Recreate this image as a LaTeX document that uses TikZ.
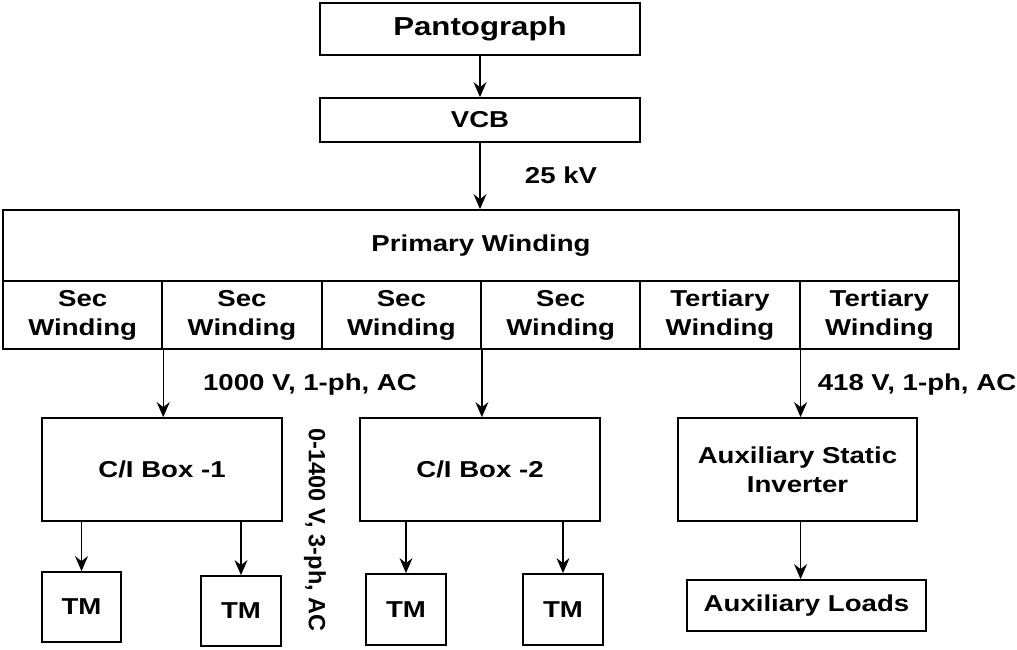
\documentclass[tikz,border=0pt]{standalone}
\usepackage{fontspec}
\setmainfont[FakeStretch=1.2]{Liberation Sans}
\newfontfamily\rotfont{Liberation Sans}
\usetikzlibrary{arrows.meta}
\begin{document}
\begin{tikzpicture}[x=1pt,y=-1pt,
  box/.style={draw, line width=1.8pt, inner sep=0pt, align=center,
    font=\fontsize{23}{29}\selectfont\bfseries},
  arr/.style={line width=1.4pt, -{Stealth[length=15pt,width=13pt,inset=5pt]}},
  lab/.style={inner sep=0pt, font=\fontsize{23}{29}\selectfont\bfseries}]
\useasboundingbox (0,0) rectangle (1017,649);
% top chain
\node[box, minimum width=320pt, minimum height=52pt, font=\fontsize{26}{31}\selectfont\bfseries] (pant) at (480,29) {Pantograph};
\node[box, minimum width=320pt, minimum height=44pt] (vcb) at (480,120) {VCB};
\node[box, minimum width=956pt, minimum height=71pt] (prim) at (481,245.5) {Primary Winding};
% winding cells
\node[box, minimum width=159.33pt, minimum height=68pt] (s1) at (82.67,315) {Sec\\Winding};
\node[box, minimum width=159.33pt, minimum height=68pt] (s2) at (242,315) {Sec\\Winding};
\node[box, minimum width=159.33pt, minimum height=68pt] (s3) at (401.33,315) {Sec\\Winding};
\node[box, minimum width=159.33pt, minimum height=68pt] (s4) at (560.67,315) {Sec\\Winding};
\node[box, minimum width=159.33pt, minimum height=68pt] (s5) at (720,315) {Tertiary\\Winding};
\node[box, minimum width=159.33pt, minimum height=68pt] (s6) at (879.33,315) {Tertiary\\Winding};
% converters
\node[box, minimum width=240pt, minimum height=103pt] (ci1) at (162,469.5) {C/I Box -1};
\node[box, minimum width=240pt, minimum height=103pt] (ci2) at (480,469.5) {C/I Box -2};
\node[box, minimum width=239pt, minimum height=103pt] (asi) at (797.5,469.5) {Auxiliary Static\\Inverter};
% loads
\node[box, minimum width=79pt, minimum height=70pt] (tm1) at (81.5,607) {TM};
\node[box, minimum width=80pt, minimum height=70pt] (tm2) at (241,611) {TM};
\node[box, minimum width=80pt, minimum height=71pt] (tm3) at (406,609.5) {TM};
\node[box, minimum width=80pt, minimum height=71pt] (tm4) at (563,609.5) {TM};
\node[box, minimum width=239pt, minimum height=51pt] (aux) at (806.5,605.5) {Auxiliary Loads};
% labels
\node[lab] (l25) at (561,175) {25 kV};
\node[lab] (l1000) at (310,385) {1000 V, 1-ph, AC};
\node[lab] (l418) at (917,385) {418 V, 1-ph, AC};
\node[inner sep=0pt, rotate=-90, font=\rotfont\fontsize{23.5}{29}\selectfont\bfseries] (l1400) at (315,530) {0-1400 V, 3-ph, AC};
% connectors
\draw[arr] (pant.south) -- (vcb.north);
\draw[arr] (vcb.south) -- (vcb.south |- prim.north);
\draw[arr] (s1.south east) -- (s1.south east |- ci1.north);
\draw[arr] (s3.south east) -- (s3.south east |- ci2.north);
\draw[arr] (s5.south east) -- (s5.south east |- asi.north);
\draw[arr] (tm1.north |- ci1.south) -- (tm1.north);
\draw[arr] (tm2.north |- ci1.south) -- (tm2.north);
\draw[arr] (tm3.north |- ci2.south) -- (tm3.north);
\draw[arr] (tm4.north |- ci2.south) -- (tm4.north);
\draw[arr] (s5.south east |- asi.south) -- (s5.south east |- aux.north);
\end{tikzpicture}
\end{document}
